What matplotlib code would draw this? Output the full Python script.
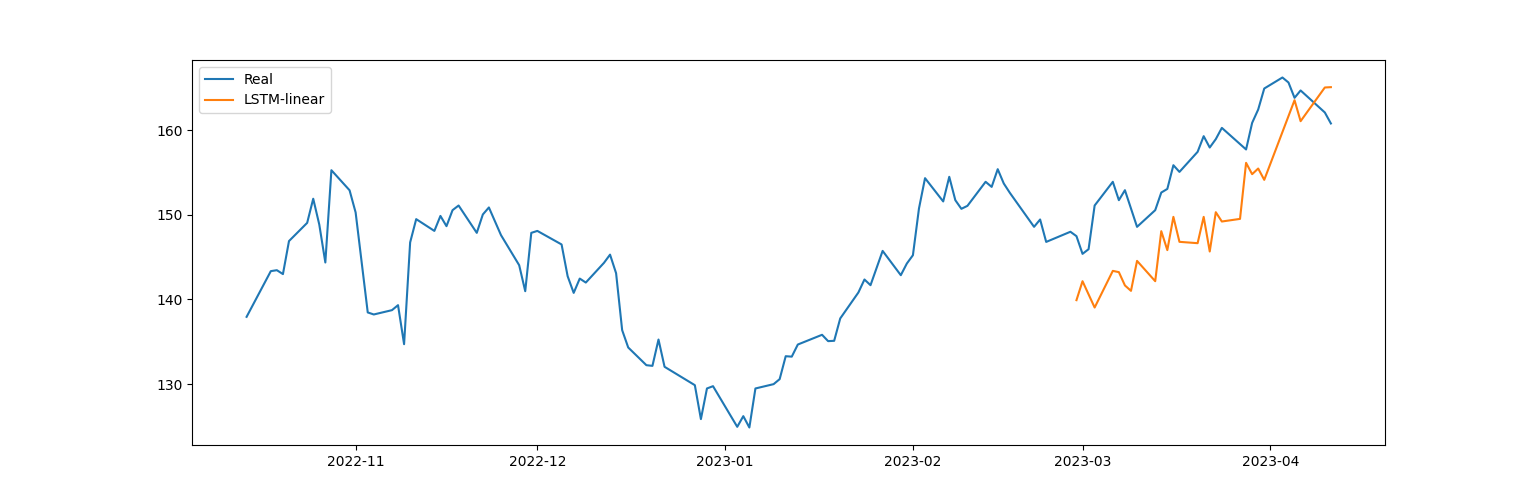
import matplotlib
matplotlib.use('Agg')
import matplotlib.pyplot as plt
import pandas as pd

# Real closing prices (vertices)
real_dates = ['2022-10-14', '2022-10-18', '2022-10-19', '2022-10-20', '2022-10-21',
              '2022-10-24', '2022-10-25', '2022-10-26', '2022-10-27', '2022-10-28',
              '2022-10-31', '2022-11-01', '2022-11-03', '2022-11-04', '2022-11-07',
              '2022-11-08', '2022-11-09', '2022-11-10', '2022-11-11', '2022-11-14',
              '2022-11-15', '2022-11-16', '2022-11-17', '2022-11-18', '2022-11-21',
              '2022-11-22', '2022-11-23', '2022-11-25', '2022-11-28', '2022-11-29',
              '2022-11-30', '2022-12-01', '2022-12-05', '2022-12-06', '2022-12-07',
              '2022-12-08', '2022-12-09', '2022-12-12', '2022-12-13', '2022-12-14',
              '2022-12-15', '2022-12-16', '2022-12-19', '2022-12-20', '2022-12-21',
              '2022-12-22', '2022-12-27', '2022-12-28', '2022-12-29', '2022-12-30',
              '2023-01-03', '2023-01-04', '2023-01-05', '2023-01-06', '2023-01-09',
              '2023-01-10', '2023-01-11', '2023-01-12', '2023-01-13', '2023-01-17',
              '2023-01-18', '2023-01-19', '2023-01-20', '2023-01-23', '2023-01-24',
              '2023-01-25', '2023-01-27', '2023-01-30', '2023-01-31', '2023-02-01',
              '2023-02-02', '2023-02-03', '2023-02-06', '2023-02-07', '2023-02-08',
              '2023-02-09', '2023-02-10', '2023-02-13', '2023-02-14', '2023-02-15',
              '2023-02-16', '2023-02-17', '2023-02-21', '2023-02-22', '2023-02-23',
              '2023-02-27', '2023-02-28', '2023-03-01', '2023-03-02', '2023-03-03',
              '2023-03-06', '2023-03-07', '2023-03-08', '2023-03-10', '2023-03-13',
              '2023-03-14', '2023-03-15', '2023-03-16', '2023-03-17', '2023-03-20',
              '2023-03-21', '2023-03-22', '2023-03-23', '2023-03-24', '2023-03-28',
              '2023-03-29', '2023-03-30', '2023-03-31', '2023-04-03', '2023-04-04',
              '2023-04-05', '2023-04-06', '2023-04-10', '2023-04-11']
real_values = [137.95, 143.35, 143.46, 143.0, 146.9,
               149.05, 151.9, 148.85, 144.37, 155.27,
               152.9, 150.28, 138.47, 138.23, 138.74,
               139.33, 134.72, 146.74, 149.49, 148.1,
               149.87, 148.66, 150.55, 151.1, 147.87,
               150.04, 150.87, 147.6, 144.05, 140.98,
               147.87, 148.1, 146.5, 142.75, 140.78,
               142.47, 142.0, 144.33, 145.3, 143.1,
               136.38, 134.33, 132.24, 132.16, 135.27,
               132.05, 129.88, 125.87, 129.49, 129.76,
               124.96, 126.22, 124.88, 129.49, 130.0,
               130.59, 133.3, 133.25, 134.68, 135.83,
               135.08, 135.12, 137.76, 140.83, 142.36,
               141.69, 145.74, 142.87, 144.25, 145.23,
               150.75, 154.33, 151.58, 154.49, 151.73,
               150.71, 151.06, 153.9, 153.3, 155.39,
               153.7, 152.6, 148.58, 149.45, 146.8,
               148.0, 147.48, 145.39, 145.94, 151.1,
               153.9, 151.73, 152.91, 148.58, 150.55,
               152.63, 153.06, 155.86, 155.07, 157.44,
               159.29, 157.95, 158.94, 160.27, 157.72,
               160.86, 162.44, 164.92, 166.22, 165.63,
               163.82, 164.69, 162.09, 160.79]

# LSTM-linear predictions
pred_dates = ['2023-02-28', '2023-03-01', '2023-03-03', '2023-03-06', '2023-03-07',
              '2023-03-08', '2023-03-09', '2023-03-10', '2023-03-13', '2023-03-14',
              '2023-03-15', '2023-03-16', '2023-03-17', '2023-03-20', '2023-03-21',
              '2023-03-22', '2023-03-23', '2023-03-24', '2023-03-27', '2023-03-28',
              '2023-03-29', '2023-03-30', '2023-03-31', '2023-04-05', '2023-04-06',
              '2023-04-10', '2023-04-11']
pred_values = [139.92, 142.16, 139.05, 143.38, 143.23,
               141.66, 141.02, 144.56, 142.16, 148.07,
               145.83, 149.76, 146.81, 146.65, 149.76,
               145.67, 150.31, 149.21, 149.52, 156.14,
               154.8, 155.47, 154.13, 163.54, 161.06,
               165.04, 165.08]


def plot_prediction():
    fig, ax = plt.subplots(figsize=(15.39, 5), dpi=100)

    ax.plot(pd.to_datetime(real_dates), real_values, label='Real')
    ax.plot(pd.to_datetime(pred_dates), pred_values, label='LSTM-linear')

    ax.legend(loc='upper left')
    fig.savefig('out.png', dpi=100)


if __name__ == '__main__':
    plot_prediction()
